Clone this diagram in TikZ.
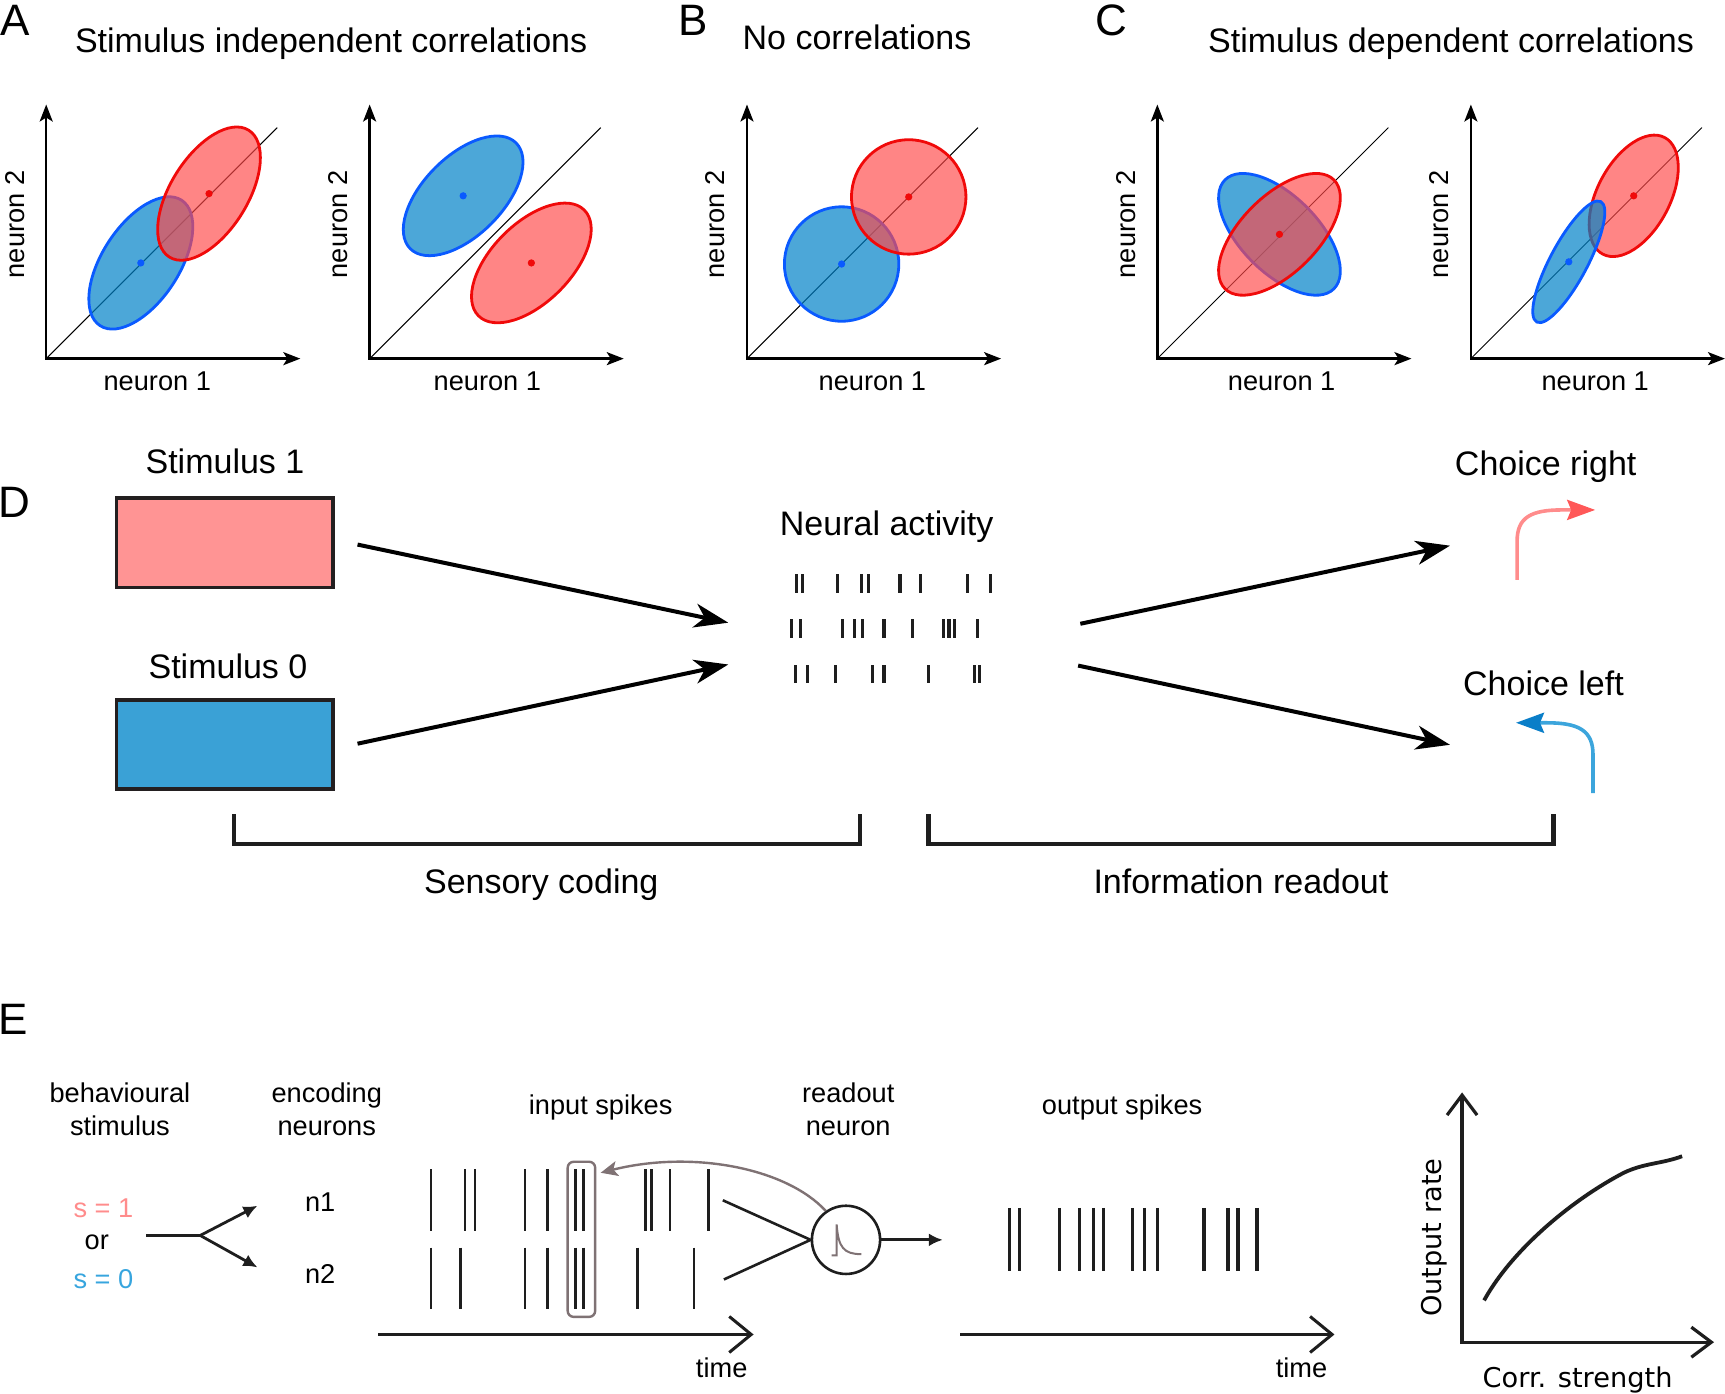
\documentclass[tikz,border=0pt]{standalone}
\usepackage{fontspec}
\setmainfont{Liberation Sans}
\newfontfamily\dvsans{DejaVu Sans}
\usetikzlibrary{arrows.meta,positioning}
\usepackage{xcolor}

\definecolor{ellbluefill}{RGB}{0,130,200}
\definecolor{ellblueline}{RGB}{10,90,255}
\definecolor{ellredfill}{RGB}{255,73,73}
\definecolor{ellredline}{RGB}{240,10,10}
\definecolor{stimred}{RGB}{255,148,148}
\definecolor{stimblue}{RGB}{58,161,214}
\definecolor{boxedge}{RGB}{35,31,32}
\definecolor{pinkline}{RGB}{255,140,140}
\definecolor{pinkhead}{RGB}{255,88,88}
\definecolor{cyanline}{RGB}{60,165,220}
\definecolor{cyanhead}{RGB}{10,126,200}
\definecolor{sone}{RGB}{255,140,140}
\definecolor{szero}{RGB}{55,165,222}
\definecolor{fbgray}{RGB}{127,114,116}
\definecolor{ink}{RGB}{30,30,30}

\newcommand\fsz[1]{\fontsize{#1}{#1}\selectfont}

\begin{document}
\begin{tikzpicture}[
    x=0.55pt, y=-0.55pt,
    axes/.style={line width=1.2pt,{Stealth[length=8.5pt,width=6.5pt,inset=2pt]}-{Stealth[length=8.5pt,width=6.5pt,inset=2pt]}},
    diag/.style={line width=0.5pt},
    blueell/.style={draw=ellblueline,fill=ellbluefill,fill opacity=0.7,line width=1.4pt},
    redell/.style={draw=ellredline,fill=ellredfill,fill opacity=0.67,line width=1.4pt},
    panel/.style={font=\fsz{22},inner sep=0pt},
    ttl/.style={font=\fsz{17},inner sep=0pt},
    small/.style={font=\fsz{13.6},inner sep=0pt},
    stimbox/.style={draw=boxedge,line width=1.9pt,minimum width=108.4pt,minimum height=44.6pt,inner sep=0pt},
    bigarrow/.style={line width=2pt,-{Stealth[length=17pt,width=12pt,inset=5pt]}},
    spk/.style={line width=1.65pt,ink},
    inspk/.style={line width=1.4pt,ink},
    brk/.style={line width=2.1pt,ink},
    forkarrow/.style={line width=1.4pt,ink,-{Latex[length=7pt,width=6.5pt]}},
    timeax/.style={line width=1.5pt,ink,-{Straight Barb[length=11pt,width=18pt]}},
    gax/.style={line width=1.6pt,ink,{Straight Barb[length=10pt,width=15pt]}-{Straight Barb[length=10pt,width=15pt]}}
]
\useasboundingbox (0,0) rectangle (1568,1267);

% Panel letters and titles
\node[panel,anchor=base] (pA) at (14,32) {A};
\node[panel,anchor=base] (pB) at (630,32) {B};
\node[panel,anchor=base] (pC) at (1010,32) {C};
\node[panel,anchor=base] (pD) at (13,470) {D};
\node[panel,anchor=base] (pE) at (12,940) {E};
\node[ttl,anchor=base] (ttlA) at (301,48) {Stimulus independent correlations};
\node[ttl,anchor=base] (ttlB) at (779,45) {No correlations};
\node[ttl,anchor=base] (ttlC) at (1319,48) {Stimulus dependent correlations};

% Axes of the five scatter panels
\foreach \nm/\ox/\lx in {a1/42/101,a2/336/107,b/679/114,c1/1052/113,c2/1337/113}{
  \coordinate (o\nm) at (\ox,326);
  \coordinate (ytop\nm) at (\ox,95);
  \coordinate (xend\nm) at (\ox+231,326);
  \coordinate (dg\nm) at (\ox+210,116);
  \draw[diag] (o\nm) -- (dg\nm);
  \draw[axes] (ytop\nm) -- (o\nm) -- (xend\nm);
  \node[small,anchor=base] (nx\nm) at (\ox+\lx,355) {neuron 1};
  \node[small,anchor=base,rotate=90] (ny\nm) at (\ox-20,204) {neuron 2};
}

% A: stimulus independent
\draw[blueell,shift={(128,239)},rotate=57] (0,0) ellipse [x radius=68,y radius=35];
\fill[ellblueline] (128,239) circle [radius=3.3];
\draw[redell,shift={(190,176)},rotate=58] (0,0) ellipse [x radius=68,y radius=35];
\fill[ellredline] (190,176) circle [radius=3.3];
\draw[blueell,shift={(421,178)},rotate=45] (0,0) ellipse [x radius=68,y radius=36];
\fill[ellblueline] (421,178) circle [radius=3.3];
\draw[redell,shift={(483,239)},rotate=45] (0,0) ellipse [x radius=68,y radius=36];
\fill[ellredline] (483,239) circle [radius=3.3];

% B: none
\draw[blueell] (765,240) circle [radius=52];
\fill[ellblueline] (765,240) circle [radius=3.3];
\draw[redell] (826,179) circle [radius=52];
\fill[ellredline] (826,179) circle [radius=3.3];

% C: stimulus dependent
\draw[blueell,shift={(1163,213)},rotate=135] (0,0) ellipse [x radius=70,y radius=35];
\draw[redell,shift={(1163,213)},rotate=45] (0,0) ellipse [x radius=70,y radius=35];
\fill[ellredline] (1163,213) circle [radius=3.3];
\draw[redell,shift={(1485,178)},rotate=62] (0,0) ellipse [x radius=60,y radius=33];
\fill[ellredline] (1485,178) circle [radius=3.3];
\draw[blueell,shift={(1426,238)},rotate=62] (0,0) ellipse [x radius=62,y radius=17];
\fill[ellblueline] (1426,238) circle [radius=3.3];

% D: stimuli
\node[stimbox,fill=stimred] (stim1) at (204.5,493.5) {};
\node[stimbox,fill=stimblue] (stim0) at (204.5,676.5) {};
\node[ttl,above=11pt of stim1] (lblstim1) {Stimulus 1};
\node[ttl,above=9.5pt of stim0,xshift=1.5pt] (lblstim0) {Stimulus 0};

% D: neural activity raster
\node[ttl,anchor=base] (lblact) at (806,487) {Neural activity};
\foreach \x in {724.3,729.7,761.2,783.3,789.4,818.2,836.4,879.7,900.6}
  \draw[spk] (\x,522) -- (\x,539);
\foreach \x in {719.7,727.9,766.1,776.4,784.2,803.6,829.4,857.6,862.7,867.9,888.8}
  \draw[spk] (\x,563) -- (\x,580);
\foreach \x in {723.3,733.9,759.7,793.3,803.6,843.9,885.7,890.3}
  \draw[spk] (\x,604.5) -- (\x,621);

% D: coding and readout arrows
\coordinate (s1out) at (325,495);
\coordinate (s0out) at (325,676);
\coordinate (act1) at (662,566);
\coordinate (act0) at (662,604);
\coordinate (actr) at (982,567);
\coordinate (actl) at (980,605);
\coordinate (chr) at (1318,496);
\coordinate (chl) at (1318,677);
\draw[bigarrow] (s1out) -- (act1);
\draw[bigarrow] (s0out) -- (act0);
\draw[bigarrow] (actr) -- (chr);
\draw[bigarrow] (actl) -- (chl);

% D: choices
\node[ttl,anchor=base] (lblchr) at (1405,432) {Choice right};
\node[ttl,anchor=base] (lblchl) at (1403,632) {Choice left};
\coordinate (cr0) at (1379,527);
\coordinate (cr1) at (1450,463.5);
\coordinate (cl0) at (1448,721);
\coordinate (cl1) at (1378,657);
\draw[pinkline,line width=1.8pt,-{Stealth[length=14pt,width=10pt,inset=2pt,color=pinkhead]}]
  (cr0) -- (1379,492) .. controls (1379,470) and (1392,463.5) .. (1420,463.5) -- (cr1);
\draw[cyanline,line width=1.8pt,-{Stealth[length=14pt,width=10pt,inset=2pt,color=cyanhead]}]
  (cl0) -- (1448,686) .. controls (1448,664) and (1435,657) .. (1406,657) -- (cl1);

% D: brackets
\draw[brk] (213,740) -- (213,767) -- (782,767) -- (782,740);
\draw[brk] (844,740) -- (844,767) -- (1412,767) -- (1412,740);
\node[ttl,anchor=base] (lblsc) at (492,812) {Sensory coding};
\node[ttl,anchor=base] (lblir) at (1128,812) {Information readout};

% E: column headings
\node[small,anchor=base] (hbeh1) at (109,1002) {behavioural};
\node[small,anchor=base] (hbeh2) at (109,1032) {stimulus};
\node[small,anchor=base] (henc1) at (297,1002) {encoding};
\node[small,anchor=base] (henc2) at (297,1032) {neurons};
\node[small,anchor=base] (hin) at (546,1013) {input spikes};
\node[small,anchor=base] (hro1) at (771,1002) {readout};
\node[small,anchor=base] (hro2) at (771,1032) {neuron};
\node[small,anchor=base] (hout) at (1020,1013) {output spikes};

% E: stimulus fork
\node[small,anchor=base,text=sone] (sone) at (94,1107) {s = 1};
\node[small,anchor=base] (sor) at (88,1136) {or};
\node[small,anchor=base,text=szero] (szero) at (94,1171) {s = 0};
\coordinate (fkin) at (133,1123);
\coordinate (fk) at (182,1123);
\coordinate (fk1) at (234,1096);
\coordinate (fk2) at (234,1152);
\draw[line width=1.4pt,ink] (fkin) -- (fk);
\draw[forkarrow] (fk) -- (fk1);
\draw[forkarrow] (fk) -- (fk2);
\node[small,anchor=base] (n1) at (291,1101) {n1};
\node[small,anchor=base] (n2) at (291,1167) {n2};

% E: input spikes
\foreach \x in {391.8,422.7,431.8,477.3,497.9,523,530.3,586.4,592.4,609.1,643.9}
  \draw[inspk] (\x,1063) -- (\x,1119);
\foreach \x in {391.8,418.8,477.3,497.9,523,530.3,579.4,630.9}
  \draw[inspk] (\x,1134) -- (\x,1190);
\draw[fbgray,line width=1.2pt,rounded corners=3pt] (516,1056) rectangle (541,1197);

% E: readout neuron
\node[circle,draw=ink,line width=1.3pt,minimum size=34.1pt,inner sep=0pt] (ro) at (769,1127) {};
\draw[fbgray,line width=1pt] (756,1141) -- (760.5,1141) -- (760.5,1113)
  .. controls (762,1134) and (767,1140) .. (783,1140);
\coordinate (in1) at (657,1091);
\coordinate (in2) at (658,1163);
\draw[line width=1.3pt,ink] (in1) -- (ro.west);
\draw[line width=1.3pt,ink] (in2) -- (ro.west);
\coordinate (hltip) at (546,1066);
\draw[fbgray,line width=1.2pt,-{Stealth[length=8.5pt,width=7.5pt,inset=2pt]}]
  (ro.125) .. controls (715,1062) and (630,1045) .. (hltip);
\coordinate (outtip) at (857,1127);
\draw[line width=1.4pt,ink,-{Latex[length=7pt,width=6.5pt]}] (ro.east) -- (outtip);

% E: output spikes
\foreach \x in {917.6,927,963.3,981.2,993.9,1003,1029.7,1040.6,1052.1,1094.5,1116.1,1125.2,1142.7}
  \draw[spk] (\x,1098) -- (\x,1155.5);

% E: time axes
\coordinate (t1s) at (344,1213);
\coordinate (t1e) at (685,1213);
\coordinate (t2s) at (873,1213);
\coordinate (t2e) at (1213,1213);
\draw[timeax] (t1s) -- (t1e);
\draw[timeax] (t2s) -- (t2e);
\node[small,anchor=base] (time1) at (656,1252) {time};
\node[small,anchor=base] (time2) at (1183,1252) {time};

% E: output rate vs correlation strength
\coordinate (go) at (1329,1220);
\coordinate (gy) at (1329,993);
\coordinate (gx) at (1558,1220);
\draw[gax] (gy) -- (go) -- (gx);
\draw[line width=1.9pt,ink] (1349,1182) .. controls (1375,1135) and (1430,1090) .. (1476,1066)
  .. controls (1495,1057) and (1510,1058) .. (1529,1051);
\node[font=\dvsans\fsz{13.6},inner sep=0pt,anchor=base,rotate=90] (lblrate) at (1310,1125) {Output rate};
\node[font=\dvsans\fsz{13.6},inner sep=0pt,anchor=base] (lblcorr) at (1434,1261) {Corr. strength};

\end{tikzpicture}
\end{document}
